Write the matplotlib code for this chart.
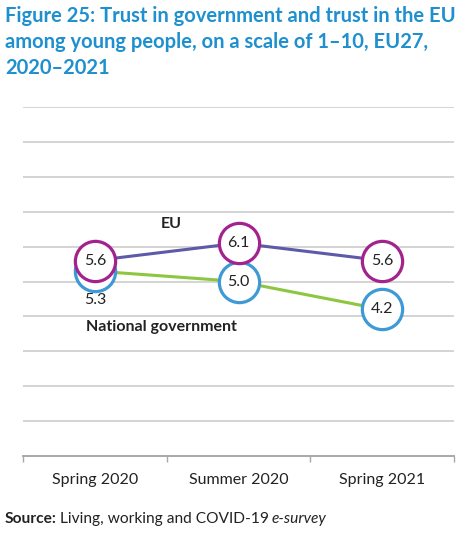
import matplotlib.pyplot as plt

plt.rcParams['font.family'] = ['Lato', 'DejaVu Sans']

# data
periods = ['Spring 2020', 'Summer 2020', 'Spring 2021']
eu_trust = [5.6, 6.1, 5.6]
gov_trust = [5.3, 5.0, 4.2]

title = 'Figure 25: Trust in government and trust in the EU\namong young people, on a scale of 1\u201310, EU27,\n2020\u20132021'

fig = plt.figure(figsize=(4.74, 5.36), dpi=100)
ax = fig.add_axes([23 / 474, 80 / 536, 431 / 474, 349 / 536])

x = [i + 0.5 for i in range(len(periods))]

# national government first, EU drawn over it
ax.plot(x, gov_trust, color='#8dc63f', linewidth=2.2, zorder=3)
ax.plot(x, gov_trust, linestyle='None', marker='o', markersize=29,
        markerfacecolor='white', markeredgecolor='#3d9ad6', markeredgewidth=2.3, zorder=4)
ax.plot(x, eu_trust, color='#5d5aa8', linewidth=2.2, zorder=5)
ax.plot(x, eu_trust, linestyle='None', marker='o', markersize=29,
        markerfacecolor='white', markeredgecolor='#a3238e', markeredgewidth=2.3, zorder=6)

for i in range(len(periods)):
    ax.text(x[i], eu_trust[i], '%.1f' % eu_trust[i], ha='center', va='center',
            fontsize=11.5, color='#222222', zorder=7)
    if i == 0:
        # overlapping circle: label below
        ax.text(x[i], gov_trust[i] - 0.82, '%.1f' % gov_trust[i], ha='center', va='center',
                fontsize=11.5, color='#222222', zorder=7)
    else:
        ax.text(x[i], gov_trust[i], '%.1f' % gov_trust[i], ha='center', va='center',
                fontsize=11.5, color='#222222', zorder=5)

ax.text(1.03, 6.65, 'EU', ha='center', va='center', fontsize=11.5,
        fontweight='bold', color='#222222')
ax.text(0.44, 3.7, 'National government', ha='left', va='center', fontsize=11.5,
        fontweight='bold', color='#222222')

ax.set_xlim(0, 3)
ax.set_ylim(0, 10)
ax.set_yticks(range(1, 11))
ax.yaxis.grid(True, color='#d4d4d4', linewidth=1.4)
ax.set_axisbelow(True)
ax.tick_params(axis='y', length=0, labelleft=False)

ax.set_xticks([0, 1, 2, 3])
ax.set_xticklabels([])
ax.set_xticks(x, minor=True)
ax.set_xticklabels(periods, minor=True)
ax.tick_params(axis='x', which='major', length=4, width=1, color='#a8a8a8', direction='out')
ax.tick_params(axis='x', which='minor', length=0, pad=12, labelsize=11.5, labelcolor='#222222')

for s in ['top', 'left', 'right']:
    ax.spines[s].set_visible(False)
ax.spines['bottom'].set_color('#a8a8a8')
ax.spines['bottom'].set_linewidth(1.4)

fig.text(5 / 474, 1 - 6 / 536, title, ha='left', va='top', fontsize=14.5,
         fontweight='bold', color='#1e90cf', linespacing=1.38)

t1 = fig.text(5 / 474, 1 - 519 / 536, 'Source:', ha='left', va='center',
              fontsize=11.2, fontweight='bold', color='#222222')
fig.canvas.draw()
bb = t1.get_window_extent()
t2 = fig.text(bb.x1 / 474 + 3 / 474, 1 - 519 / 536, 'Living, working and COVID-19', ha='left',
              va='center', fontsize=11.2, color='#222222')
bb2 = t2.get_window_extent()
fig.text(bb2.x1 / 474 + 3 / 474, 1 - 519 / 536, 'e-survey', ha='left', va='center',
         fontsize=11.2, fontstyle='italic', color='#222222')

fig.savefig('out.png', dpi=100)
